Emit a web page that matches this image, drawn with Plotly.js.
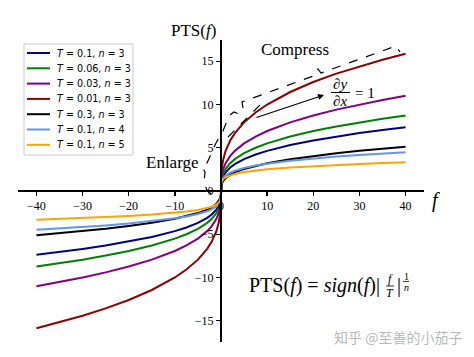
<!DOCTYPE html>
<html>
<head>
<meta charset="utf-8">
<script src="https://cdn.plot.ly/plotly-3.0.1.min.js"></script>
<style>html,body{margin:0;padding:0;background:#fff;}</style>
</head>
<body>
<div id="chart" style="width:474px;height:357px;"></div>
<script>
// ---- data ----
const fValues = [-40,-35,-30,-25,-20,-15,-10,-7.5,-5,-3,-2,-1,-0.5,-0.2,-0.05,-0.01,-0.002,0,0.002,0.01,0.05,0.2,0.5,1,2,3,5,7.5,10,15,20,25,30,35,40];

const ptsT01n3 = [-7.368,-7.047,-6.694,-6.300,-5.848,-5.313,-4.642,-4.217,-3.684,-3.107,-2.714,-2.154,-1.710,-1.260,-0.794,-0.464,-0.271,0,0.271,0.464,0.794,1.260,1.710,2.154,2.714,3.107,3.684,4.217,4.642,5.313,5.848,6.300,6.694,7.047,7.368];
const ptsT006n3 = [-8.736,-8.355,-7.937,-7.469,-6.934,-6.300,-5.503,-5.000,-4.368,-3.684,-3.218,-2.554,-2.027,-1.494,-0.941,-0.550,-0.322,0,0.322,0.550,0.941,1.494,2.027,2.554,3.218,3.684,4.368,5.000,5.503,6.300,6.934,7.469,7.937,8.355,8.736];
const ptsT003n3 = [-11.006,-10.527,-10.000,-9.410,-8.736,-7.937,-6.934,-6.300,-5.503,-4.642,-4.055,-3.218,-2.554,-1.882,-1.186,-0.693,-0.405,0,0.405,0.693,1.186,1.882,2.554,3.218,4.055,4.642,5.503,6.300,6.934,7.937,8.736,9.410,10.000,10.527,11.006];
const ptsT001n3 = [-15.874,-15.183,-14.422,-13.572,-12.599,-11.447,-10.000,-9.086,-7.937,-6.694,-5.848,-4.642,-3.684,-2.714,-1.710,-1.000,-0.585,0,0.585,1.000,1.710,2.714,3.684,4.642,5.848,6.694,7.937,9.086,10.000,11.447,12.599,13.572,14.422,15.183,15.874];
const ptsT03n3 = [-5.109,-4.887,-4.642,-4.368,-4.055,-3.684,-3.218,-2.924,-2.554,-2.154,-1.882,-1.494,-1.186,-0.874,-0.550,-0.322,-0.188,0,0.188,0.322,0.550,0.874,1.186,1.494,1.882,2.154,2.554,2.924,3.218,3.684,4.055,4.368,4.642,4.887,5.109];
const ptsT01n4 = [-4.472,-4.325,-4.162,-3.976,-3.761,-3.500,-3.162,-2.943,-2.659,-2.340,-2.115,-1.778,-1.495,-1.189,-0.841,-0.562,-0.376,0,0.376,0.562,0.841,1.189,1.495,1.778,2.115,2.340,2.659,2.943,3.162,3.500,3.761,3.976,4.162,4.325,4.472];
const ptsT01n5 = [-3.314,-3.226,-3.129,-3.017,-2.885,-2.724,-2.512,-2.371,-2.187,-1.974,-1.821,-1.585,-1.380,-1.149,-0.871,-0.631,-0.457,0,0.457,0.631,0.871,1.149,1.380,1.585,1.821,1.974,2.187,2.371,2.512,2.724,2.885,3.017,3.129,3.226,3.314];

const seriesNames = ["<i>T</i> = 0.1, <i>n</i> = 3","<i>T</i> = 0.06, <i>n</i> = 3","<i>T</i> = 0.03, <i>n</i> = 3","<i>T</i> = 0.01, <i>n</i> = 3","<i>T</i> = 0.3, <i>n</i> = 3","<i>T</i> = 0.1, <i>n</i> = 4","<i>T</i> = 0.1, <i>n</i> = 5"];
const seriesValues = [ptsT01n3, ptsT006n3, ptsT003n3, ptsT001n3, ptsT03n3, ptsT01n4, ptsT01n5];
const seriesColors = ["#000080","#008000","#800080","#8b0000","#000000","#6495ed","#ffa500"];

const xTicks = [-40,-30,-20,-10,0,10,20,30,40];
const yTicks = [-15,-10,-5,0,5,10,15];

// ---- layout helpers (pixel -> paper) ----
const ML = 18, MT = 40, PW = 406, PH = 302;
function px(x){ return (x - ML) / PW; }
function py(y){ return (MT + PH - y) / PH; }
function pathOf(pts){ return pts.map((p,i)=>(i? 'L':'M') + px(p[0]).toFixed(4) + ',' + py(p[1]).toFixed(4)).join(' '); }

const traces = seriesValues.map((vals, i) => ({
  type: 'scatter', mode: 'lines', x: fValues, y: vals, name: seriesNames[i],
  line: {color: seriesColors[i], width: 2}, showlegend: false, hoverinfo: 'skip'
}));

const serif = 'Liberation Serif';
const shapes = [];
const annotations = [];

// legend (manual, matplotlib style)
const legX0 = 24, legY0 = 44, legX1 = 133, legY1 = 155;
shapes.push({type:'rect', xref:'paper', yref:'paper', x0:px(legX0), x1:px(legX1), y0:py(legY1), y1:py(legY0),
  line:{color:'#cccccc', width:1}, fillcolor:'rgba(255,255,255,0.85)', layer:'above'});
seriesNames.forEach((nm, i) => {
  const yy = 53 + i * 15.3;
  shapes.push({type:'line', xref:'paper', yref:'paper', x0:px(27), x1:px(50), y0:py(yy), y1:py(yy),
    line:{color:seriesColors[i], width:2}, layer:'above'});
  annotations.push({xref:'paper', yref:'paper', x:px(55), y:py(yy), xanchor:'left', yanchor:'middle',
    text:nm, showarrow:false, font:{family:'DejaVu Sans', size:9.6, color:'#000'}});
});

// axis labels
annotations.push({xref:'paper', yref:'paper', x:px(193), y:py(31), xanchor:'center', yanchor:'middle',
  text:'PTS(<i>f</i>)', showarrow:false, font:{family:serif, size:17, color:'#000'}});
annotations.push({xref:'paper', yref:'paper', x:px(436), y:py(200), xanchor:'center', yanchor:'middle',
  text:'<i>f</i>', showarrow:false, font:{family:serif, size:20, color:'#000'}});

// Compress / Enlarge
annotations.push({xref:'paper', yref:'paper', x:px(295), y:py(50), xanchor:'center', yanchor:'middle',
  text:'Compress', showarrow:false, font:{family:serif, size:17, color:'#000'}});
annotations.push({xref:'paper', yref:'paper', x:px(172), y:py(162), xanchor:'center', yanchor:'middle',
  text:'Enlarge', showarrow:false, font:{family:serif, size:17, color:'#000'}});

// braces (dashed)
const dashLine = {color:'#000', width:1.2, dash:'dash'};
shapes.push({type:'path', xref:'paper', yref:'paper', layer:'above', line:dashLine,
  path: pathOf([[211,194],[207,190],[204,183],[205,172],[202,167],[207,163],[216,143],[223,131],[229,116],[234,112],[239,114]])});
shapes.push({type:'path', xref:'paper', yref:'paper', layer:'above', line:dashLine,
  path: pathOf([[243,108],[242,102],[316,75],[318,69],[321,73],[396,46],[400,52]])});
// dashed tangent
shapes.push({type:'line', xref:'paper', yref:'paper', layer:'above', line:dashLine,
  x0:px(228), y0:py(137), x1:px(265), y1:py(100)});

// arrow
annotations.push({xref:'paper', yref:'paper', x:px(324), y:py(95), ax:255-324, ay:118-95, axref:'pixel', ayref:'pixel',
  text:'', showarrow:true, arrowhead:2, arrowsize:1, arrowwidth:1.2, arrowcolor:'#000'});

// dy/dx = 1
annotations.push({xref:'paper', yref:'paper', x:px(340), y:py(84), xanchor:'center', yanchor:'middle',
  text:'∂<i>y</i>', showarrow:false, font:{family:serif, size:15, color:'#000'}});
annotations.push({xref:'paper', yref:'paper', x:px(340), y:py(101), xanchor:'center', yanchor:'middle',
  text:'∂<i>x</i>', showarrow:false, font:{family:serif, size:15, color:'#000'}});
shapes.push({type:'line', xref:'paper', yref:'paper', layer:'above', line:{color:'#000', width:1},
  x0:px(331), x1:px(350), y0:py(92.5), y1:py(92.5)});
annotations.push({xref:'paper', yref:'paper', x:px(353), y:py(92.5), xanchor:'left', yanchor:'middle',
  text:'= 1', showarrow:false, font:{family:serif, size:15, color:'#000'}});

// formula
annotations.push({xref:'paper', yref:'paper', x:px(247), y:py(285), xanchor:'left', yanchor:'middle',
  text:'PTS(<i>f</i>) = <i>sign</i>(<i>f</i>)|', showarrow:false, font:{family:serif, size:20, color:'#000'}});
annotations.push({xref:'paper', yref:'paper', x:px(390), y:py(279), xanchor:'center', yanchor:'middle',
  text:'<i>f</i>', showarrow:false, font:{family:serif, size:12, color:'#000'}});
annotations.push({xref:'paper', yref:'paper', x:px(390), y:py(293), xanchor:'center', yanchor:'middle',
  text:'<i>T</i>', showarrow:false, font:{family:serif, size:12, color:'#000'}});
shapes.push({type:'line', xref:'paper', yref:'paper', layer:'above', line:{color:'#000', width:0.8},
  x0:px(386), x1:px(394), y0:py(286), y1:py(286)});
annotations.push({xref:'paper', yref:'paper', x:px(399), y:py(285), xanchor:'center', yanchor:'middle',
  text:'|', showarrow:false, font:{family:serif, size:20, color:'#000'}});
annotations.push({xref:'paper', yref:'paper', x:px(406), y:py(276), xanchor:'center', yanchor:'middle',
  text:'1', showarrow:false, font:{family:serif, size:10, color:'#000'}});
annotations.push({xref:'paper', yref:'paper', x:px(406), y:py(287), xanchor:'center', yanchor:'middle',
  text:'<i>n</i>', showarrow:false, font:{family:serif, size:10, color:'#000'}});
shapes.push({type:'line', xref:'paper', yref:'paper', layer:'above', line:{color:'#000', width:0.7},
  x0:px(403), x1:px(409), y0:py(281.5), y1:py(281.5)});

// watermark
annotations.push({xref:'paper', yref:'paper', x:px(398), y:py(337), xanchor:'center', yanchor:'middle',
  text:'知乎 @至善的小茄子', showarrow:false, font:{family:'Noto Sans CJK SC', size:14, color:'rgba(170,170,170,0.85)'}});

const axisCommon = {
  showgrid:false, zeroline:false, showline:true, linecolor:'#000', linewidth:2,
  ticks:'outside', ticklen:4, tickwidth:1.3, tickcolor:'#000', anchor:'free', position:0.5,
  tickfont:{family:serif, size:12, color:'#000'}, fixedrange:true
};

const layout = {
  width:474, height:357,
  font:{family:serif, size:12, color:'#000'},
  margin:{l:ML, r:474-ML-PW, t:MT, b:357-MT-PH, pad:0},
  paper_bgcolor:'#fff', plot_bgcolor:'#fff', showlegend:false,
  xaxis: Object.assign({}, axisCommon, {range:[-44,44], tickvals:xTicks, ticktext:xTicks.map(v=>v<0?'\u2212'+Math.abs(v):String(v))}),
  yaxis: Object.assign({}, axisCommon, {range:[-17.46,17.46], tickvals:yTicks, ticktext:yTicks.map(v=>v<0?'\u2212'+Math.abs(v):String(v))}),
  shapes: shapes, annotations: annotations
};

Plotly.newPlot('chart', traces, layout, {displayModeBar:false, staticPlot:true});
</script>
</body>
</html>
